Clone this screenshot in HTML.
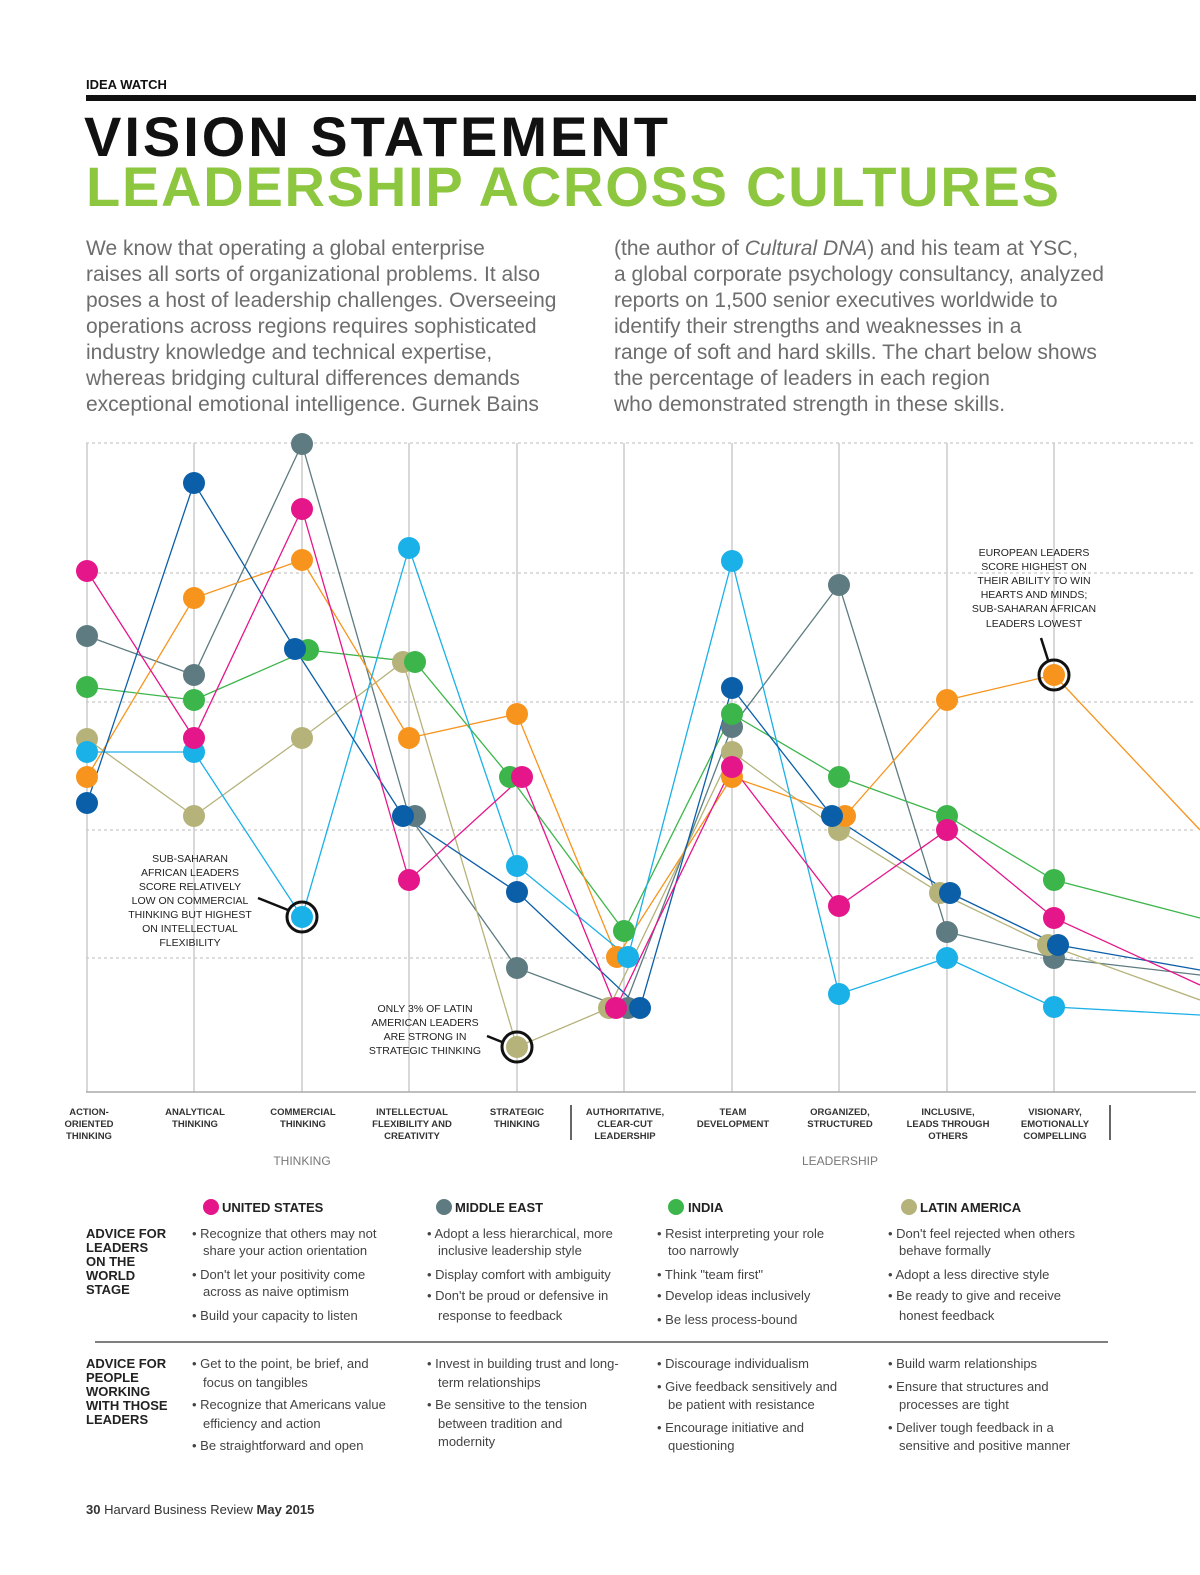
<!DOCTYPE html>
<html><head><meta charset="utf-8"><style>
html,body{margin:0;padding:0;background:#fff;}
svg{display:block;font-family:"Liberation Sans",sans-serif;}
.b{font-size:21px;fill:#6d6d6d;}
.ax{font-size:9.5px;font-weight:bold;fill:#333;text-anchor:middle;}
.an{font-size:10.5px;fill:#222;text-anchor:middle;}
.t{font-size:13px;fill:#444;}
.h{font-size:13px;font-weight:bold;fill:#222;}
</style></head><body>
<svg width="1200" height="1575" viewBox="0 0 1200 1575">
<text x="86" y="89" font-size="13" font-weight="bold" fill="#111">IDEA WATCH</text>
<rect x="86" y="95" width="1110" height="6" fill="#111"/>
<text x="84" y="156" font-size="56" font-weight="bold" fill="#111" textLength="584">VISION STATEMENT</text>
<text x="86" y="206" font-size="56" font-weight="bold" fill="#8dc63f" textLength="973">LEADERSHIP ACROSS CULTURES</text>
<g class="b">
<text x="86" y="255">We know that operating a global enterprise</text>
<text x="86" y="281">raises all sorts of organizational problems. It also</text>
<text x="86" y="307">poses a host of leadership challenges. Overseeing</text>
<text x="86" y="333">operations across regions requires sophisticated</text>
<text x="86" y="359">industry knowledge and technical expertise,</text>
<text x="86" y="385">whereas bridging cultural differences demands</text>
<text x="86" y="411">exceptional emotional intelligence. Gurnek Bains</text>
<text x="614" y="255">(the author of <tspan font-style="italic">Cultural DNA</tspan>) and his team at YSC,</text>
<text x="614" y="281">a global corporate psychology consultancy, analyzed</text>
<text x="614" y="307">reports on 1,500 senior executives worldwide to</text>
<text x="614" y="333">identify their strengths and weaknesses in a</text>
<text x="614" y="359">range of soft and hard skills. The chart below shows</text>
<text x="614" y="385">the percentage of leaders in each region</text>
<text x="614" y="411">who demonstrated strength in these skills.</text>
</g>
<g stroke="#bbb" stroke-dasharray="3,3" stroke-width="1">
<line x1="86" y1="443" x2="1196" y2="443"/><line x1="86" y1="573" x2="1196" y2="573"/>
<line x1="86" y1="702" x2="1196" y2="702"/><line x1="86" y1="830" x2="1196" y2="830"/>
<line x1="86" y1="958" x2="1196" y2="958"/>
</g>
<g stroke="#ccc" stroke-width="1.5">
<line x1="87" y1="443" x2="87" y2="1092"/><line x1="194" y1="443" x2="194" y2="1092"/><line x1="302" y1="443" x2="302" y2="1092"/><line x1="409" y1="443" x2="409" y2="1092"/><line x1="517" y1="443" x2="517" y2="1092"/><line x1="624" y1="443" x2="624" y2="1092"/><line x1="732" y1="443" x2="732" y2="1092"/><line x1="839" y1="443" x2="839" y2="1092"/><line x1="947" y1="443" x2="947" y2="1092"/><line x1="1054" y1="443" x2="1054" y2="1092"/>
</g>
<line x1="86" y1="1092" x2="1196" y2="1092" stroke="#aaa" stroke-width="1.5"/>
<g fill="none" stroke-width="1.3">
<polyline stroke="#5d7b80" points="87,636 194,675 302,444 409,816 517,968 624,1008 732,727 839,585 947,932 1054,958 1200,975"/>
<polyline stroke="#b5b27a" points="87,739 194,816 302,738 403,662 517,1047 609,1008 732,752 839,830 940,893 1048,945 1200,1000"/>
<polyline stroke="#3cb54a" points="87,687 194,700 308,650 415,662 510,777 624,931 732,714 839,777 947,816 1054,880 1200,918"/>
<polyline stroke="#f7941d" points="87,777 194,598 302,560 409,738 517,714 617,957 732,777 845,816 947,700 1054,675 1200,830"/>
<polyline stroke="#1ab0e8" points="87,752 194,752 302,917 409,548 517,866 628,957 732,561 839,994 947,958 1054,1007 1200,1015"/>
<polyline stroke="#0b5ea8" points="87,803 194,483 295,649 403,816 517,892 640,1008 732,688 832,816 950,893 1058,945 1200,970"/>
<polyline stroke="#e5158a" points="87,571 194,738 302,509 409,880 522,777 616,1008 732,767 839,906 947,830 1054,918 1200,985"/>
</g>
<g fill="#5d7b80"><circle cx="87" cy="636" r="11"/><circle cx="194" cy="675" r="11"/><circle cx="302" cy="444" r="11"/><circle cx="415" cy="816" r="11"/><circle cx="517" cy="968" r="11"/><circle cx="628" cy="1008" r="11"/><circle cx="732" cy="727" r="11"/><circle cx="839" cy="585" r="11"/><circle cx="947" cy="932" r="11"/><circle cx="1054" cy="958" r="11"/></g>
<g fill="#b5b27a"><circle cx="87" cy="739" r="11"/><circle cx="194" cy="816" r="11"/><circle cx="302" cy="738" r="11"/><circle cx="403" cy="662" r="11"/><circle cx="609" cy="1008" r="11"/><circle cx="732" cy="752" r="11"/><circle cx="839" cy="830" r="11"/><circle cx="940" cy="893" r="11"/><circle cx="1048" cy="945" r="11"/></g>
<g fill="#3cb54a"><circle cx="87" cy="687" r="11"/><circle cx="194" cy="700" r="11"/><circle cx="308" cy="650" r="11"/><circle cx="415" cy="662" r="11"/><circle cx="510" cy="777" r="11"/><circle cx="624" cy="931" r="11"/><circle cx="732" cy="714" r="11"/><circle cx="839" cy="777" r="11"/><circle cx="947" cy="816" r="11"/><circle cx="1054" cy="880" r="11"/></g>
<g fill="#f7941d"><circle cx="87" cy="777" r="11"/><circle cx="194" cy="598" r="11"/><circle cx="302" cy="560" r="11"/><circle cx="409" cy="738" r="11"/><circle cx="517" cy="714" r="11"/><circle cx="617" cy="957" r="11"/><circle cx="732" cy="777" r="11"/><circle cx="845" cy="816" r="11"/><circle cx="947" cy="700" r="11"/></g>
<g fill="#1ab0e8"><circle cx="87" cy="752" r="11"/><circle cx="194" cy="752" r="11"/><circle cx="409" cy="548" r="11"/><circle cx="517" cy="866" r="11"/><circle cx="628" cy="957" r="11"/><circle cx="732" cy="561" r="11"/><circle cx="839" cy="994" r="11"/><circle cx="947" cy="958" r="11"/><circle cx="1054" cy="1007" r="11"/></g>
<g fill="#0b5ea8"><circle cx="87" cy="803" r="11"/><circle cx="194" cy="483" r="11"/><circle cx="295" cy="649" r="11"/><circle cx="403" cy="816" r="11"/><circle cx="517" cy="892" r="11"/><circle cx="640" cy="1008" r="11"/><circle cx="732" cy="688" r="11"/><circle cx="832" cy="816" r="11"/><circle cx="950" cy="893" r="11"/><circle cx="1058" cy="945" r="11"/></g>
<g fill="#e5158a"><circle cx="87" cy="571" r="11"/><circle cx="194" cy="738" r="11"/><circle cx="302" cy="509" r="11"/><circle cx="409" cy="880" r="11"/><circle cx="522" cy="777" r="11"/><circle cx="616" cy="1008" r="11"/><circle cx="732" cy="767" r="11"/><circle cx="839" cy="906" r="11"/><circle cx="947" cy="830" r="11"/><circle cx="1054" cy="918" r="11"/></g>
<circle cx="302" cy="917" r="11" fill="#1ab0e8"/><circle cx="302" cy="917" r="15" fill="none" stroke="#111" stroke-width="3"/>
<circle cx="517" cy="1047" r="11" fill="#b5b27a"/><circle cx="517" cy="1047" r="15" fill="none" stroke="#111" stroke-width="3"/>
<circle cx="1054" cy="675" r="11" fill="#f7941d"/><circle cx="1054" cy="675" r="15" fill="none" stroke="#111" stroke-width="3"/>
<g stroke="#111" stroke-width="2.5"><line x1="258" y1="898" x2="288" y2="910"/><line x1="487" y1="1036" x2="502" y2="1042"/><line x1="1041" y1="638" x2="1048" y2="660"/></g>
<g class="an">
<text x="190" y="862">SUB-SAHARAN</text><text x="190" y="876">AFRICAN LEADERS</text><text x="190" y="890">SCORE RELATIVELY</text><text x="190" y="904">LOW ON COMMERCIAL</text><text x="190" y="918">THINKING BUT HIGHEST</text><text x="190" y="932">ON INTELLECTUAL</text><text x="190" y="946">FLEXIBILITY</text>
<text x="425" y="1012">ONLY 3% OF LATIN</text><text x="425" y="1026">AMERICAN LEADERS</text><text x="425" y="1040">ARE STRONG IN</text><text x="425" y="1054">STRATEGIC THINKING</text>
<text x="1034" y="556">EUROPEAN LEADERS</text><text x="1034" y="570">SCORE HIGHEST ON</text><text x="1034" y="584">THEIR ABILITY TO WIN</text><text x="1034" y="598">HEARTS AND MINDS;</text><text x="1034" y="612">SUB-SAHARAN AFRICAN</text><text x="1034" y="627">LEADERS LOWEST</text>
</g>
<g class="ax">
<text x="89" y="1115">ACTION-</text><text x="89" y="1127">ORIENTED</text><text x="89" y="1139">THINKING</text>
<text x="195" y="1115">ANALYTICAL</text><text x="195" y="1127">THINKING</text>
<text x="303" y="1115">COMMERCIAL</text><text x="303" y="1127">THINKING</text>
<text x="412" y="1115">INTELLECTUAL</text><text x="412" y="1127">FLEXIBILITY AND</text><text x="412" y="1139">CREATIVITY</text>
<text x="517" y="1115">STRATEGIC</text><text x="517" y="1127">THINKING</text>
<text x="625" y="1115">AUTHORITATIVE,</text><text x="625" y="1127">CLEAR-CUT</text><text x="625" y="1139">LEADERSHIP</text>
<text x="733" y="1115">TEAM</text><text x="733" y="1127">DEVELOPMENT</text>
<text x="840" y="1115">ORGANIZED,</text><text x="840" y="1127">STRUCTURED</text>
<text x="948" y="1115">INCLUSIVE,</text><text x="948" y="1127">LEADS THROUGH</text><text x="948" y="1139">OTHERS</text>
<text x="1055" y="1115">VISIONARY,</text><text x="1055" y="1127">EMOTIONALLY</text><text x="1055" y="1139">COMPELLING</text>
</g>
<g stroke="#333" stroke-width="1.5"><line x1="571" y1="1105" x2="571" y2="1140"/><line x1="1110" y1="1105" x2="1110" y2="1140"/></g>
<text x="302" y="1165" font-size="12" fill="#777" text-anchor="middle">THINKING</text>
<text x="840" y="1165" font-size="12" fill="#777" text-anchor="middle">LEADERSHIP</text>
<circle cx="211" cy="1207" r="8" fill="#e5158a"/><text x="222" y="1212" class="h">UNITED STATES</text>
<circle cx="444" cy="1207" r="8" fill="#5d7b80"/><text x="455" y="1212" class="h">MIDDLE EAST</text>
<circle cx="676" cy="1207" r="8" fill="#3cb54a"/><text x="688" y="1212" class="h">INDIA</text>
<circle cx="909" cy="1207" r="8" fill="#b5b27a"/><text x="920" y="1212" class="h">LATIN AMERICA</text>
<g class="h" font-size="12.5"><text x="86" y="1238">ADVICE FOR</text><text x="86" y="1252">LEADERS</text><text x="86" y="1266">ON THE</text><text x="86" y="1280">WORLD</text><text x="86" y="1294">STAGE</text>
<text x="86" y="1368">ADVICE FOR</text><text x="86" y="1382">PEOPLE</text><text x="86" y="1396">WORKING</text><text x="86" y="1410">WITH THOSE</text><text x="86" y="1424">LEADERS</text></g>
<g class="t">
<text x="192" y="1238">• Recognize that others may not</text><text x="203" y="1255">share your action orientation</text>
<text x="192" y="1279">• Don't let your positivity come</text><text x="203" y="1296">across as naive optimism</text>
<text x="192" y="1320">• Build your capacity to listen</text>
<text x="427" y="1238">• Adopt a less hierarchical, more</text><text x="438" y="1255">inclusive leadership style</text>
<text x="427" y="1279">• Display comfort with ambiguity</text>
<text x="427" y="1300">• Don't be proud or defensive in</text><text x="438" y="1320">response to feedback</text>
<text x="657" y="1238">• Resist interpreting your role</text><text x="668" y="1255">too narrowly</text>
<text x="657" y="1279">• Think "team first"</text>
<text x="657" y="1300">• Develop ideas inclusively</text>
<text x="657" y="1324">• Be less process-bound</text>
<text x="888" y="1238">• Don't feel rejected when others</text><text x="899" y="1255">behave formally</text>
<text x="888" y="1279">• Adopt a less directive style</text>
<text x="888" y="1300">• Be ready to give and receive</text><text x="899" y="1320">honest feedback</text>
<text x="192" y="1368">• Get to the point, be brief, and</text><text x="203" y="1387">focus on tangibles</text>
<text x="192" y="1409">• Recognize that Americans value</text><text x="203" y="1428">efficiency and action</text>
<text x="192" y="1450">• Be straightforward and open</text>
<text x="427" y="1368">• Invest in building trust and long-</text><text x="438" y="1387">term relationships</text>
<text x="427" y="1409">• Be sensitive to the tension</text><text x="438" y="1428">between tradition and</text><text x="438" y="1446">modernity</text>
<text x="657" y="1368">• Discourage individualism</text>
<text x="657" y="1391">• Give feedback sensitively and</text><text x="668" y="1409">be patient with resistance</text>
<text x="657" y="1432">• Encourage initiative and</text><text x="668" y="1450">questioning</text>
<text x="888" y="1368">• Build warm relationships</text>
<text x="888" y="1391">• Ensure that structures and</text><text x="899" y="1409">processes are tight</text>
<text x="888" y="1432">• Deliver tough feedback in a</text><text x="899" y="1450">sensitive and positive manner</text>
</g>
<line x1="95" y1="1342" x2="1108" y2="1342" stroke="#333" stroke-width="1.2"/>
<text x="86" y="1514" font-size="13" fill="#333"><tspan font-weight="bold">30</tspan> Harvard Business Review <tspan font-weight="bold">May 2015</tspan></text>
</svg>
</body></html>
